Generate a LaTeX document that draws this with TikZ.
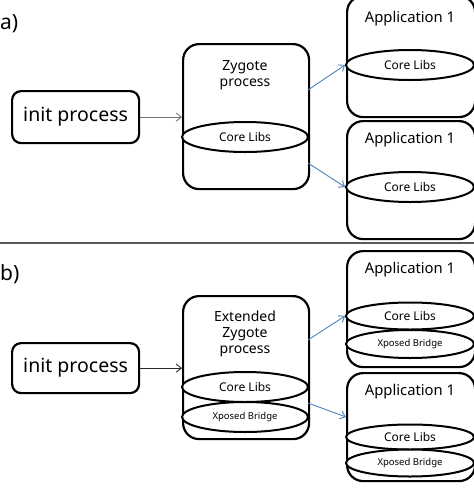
\documentclass[tikz,border=0pt]{standalone}
\usepackage{fontspec}
\setmainfont{Noto Sans}
\usetikzlibrary{arrows.meta,shapes.geometric}
\definecolor{linkblue}{RGB}{79,129,189}
\begin{document}
\begin{tikzpicture}[x=1pt,y=-1pt,
  procbox/.style={draw=black, line width=2.2pt, rounded corners=9pt, fill=white},
  bigbox/.style={draw=black, line width=2.2pt, rounded corners=16pt, fill=white},
  libell/.style={draw=black, line width=2pt, fill=white, ellipse, inner sep=0pt},
  bluearr/.style={draw=linkblue, line width=0.9pt, -{Straight Barb[length=5pt,width=8pt]}},
  initarr/.style={line width=0.9pt, -{Straight Barb[length=5pt,width=8pt]}},
  lab/.style={font=\fontsize{21}{21}\selectfont, inner sep=0pt},
  big/.style={font=\fontsize{19.5}{19.5}\selectfont, inner sep=0pt},
  mid/.style={font=\fontsize{14}{16}\selectfont, inner sep=0pt, align=center},
  appt/.style={font=\fontsize{14.8}{16}\selectfont, inner sep=0pt},
  small/.style={font=\fontsize{12}{13}\selectfont, inner sep=0pt},
  tiny/.style={font=\fontsize{9.5}{10}\selectfont, inner sep=0pt}]
\useasboundingbox (0,0) rectangle (474,491);
\begin{scope}
\clip (0,0) rectangle (474,491);
% ---------------- a) ----------------
\node[lab, anchor=west] (la) at (0,24) {a)};
\node[procbox, minimum width=127pt, minimum height=52pt, anchor=north west] (initA) at (11,90) {};
\node[big] (initAt) at (initA.center) {init process};
\node[bigbox, minimum width=126pt, minimum height=145pt, anchor=north west] (zygA) at (182,43) {};
\node[mid] (zygAt) at (245,75) {Zygote\\process};
\node[libell, minimum width=126pt, minimum height=30pt] (zygAcore) at (245,137) {};
\node[small] (zygAcoret) at (zygAcore.center) {Core Libs};
% apps a)
\node[bigbox, minimum width=128pt, minimum height=121pt, anchor=north west] (appA1) at (346,-5) {};
\node[appt] (appA1t) at (410,19) {Application 1};
\node[libell, minimum width=128pt, minimum height=30pt] (appA1core) at (410,65) {};
\node[small] (appA1coret) at (appA1core.center) {Core Libs};
\node[bigbox, minimum width=128pt, minimum height=118pt, anchor=north west] (appA2) at (346,120) {};
\node[appt] (appA2t) at (410,140) {Application 1};
\node[libell, minimum width=128pt, minimum height=30pt] (appA2core) at (410,187) {};
\node[small] (appA2coret) at (appA2core.center) {Core Libs};
\draw[initarr, draw=black!55] (initA.east) -- (zygA.west |- initA.east);
\coordinate (zA1) at (308,90);
\coordinate (zA2) at (308,163);
\draw[bluearr] (zA1) -- (appA1core.west);
\draw[bluearr] (zA2) -- (appA2core.west);
% separator
\coordinate (sepL) at (0,243);
\coordinate (sepR) at (474,243);
\draw[draw=black!65, line width=1.5pt] (sepL) -- (sepR);
% ---------------- b) ----------------
\node[lab, anchor=west, font=\fontsize{21}{21}\selectfont\bfseries] (lb) at (0,274) {b)};
\node[procbox, minimum width=127pt, minimum height=50pt, anchor=north west] (initB) at (11,342) {};
\node[big] (initBt) at (initB.center) {init process};
\node[bigbox, minimum width=126pt, minimum height=143pt, anchor=north west] (zygB) at (182,295) {};
\node[mid] (zygBt) at (245,334) {Extended\\Zygote\\process};
\node[libell, minimum width=126pt, minimum height=30pt] (zygBcore) at (245,387) {};
\node[small] (zygBcoret) at (zygBcore.center) {Core Libs};
\node[libell, minimum width=126pt, minimum height=30pt] (zygBxp) at (245,417) {};
\node[tiny] (zygBxpt) at (zygBxp.center) {Xposed Bridge};
% apps b)
\node[bigbox, minimum width=128pt, minimum height=116pt, anchor=north west] (appB1) at (346,250) {};
\node[appt] (appB1t) at (410,270) {Application 1};
\node[libell, minimum width=128pt, minimum height=27pt] (appB1core) at (410,316) {};
\node[small] (appB1coret) at (appB1core.center) {Core Libs};
\node[libell, minimum width=128pt, minimum height=28pt] (appB1xp) at (410,344) {};
\node[tiny] (appB1xpt) at (appB1xp.center) {Xposed Bridge};
\node[bigbox, minimum width=128pt, minimum height=108pt, anchor=north west] (appB2) at (346,372) {};
\node[appt] (appB2t) at (410,392) {Application 1};
\node[libell, minimum width=128pt, minimum height=25pt] (appB2core) at (410,437) {};
\node[small] (appB2coret) at (appB2core.center) {Core Libs};
\node[libell, minimum width=128pt, minimum height=27pt] (appB2xp) at (410,463) {};
\node[tiny] (appB2xpt) at (appB2xp.center) {Xposed Bridge};
\draw[initarr, draw=black!85] (initB.east) -- (zygB.west |- initB.east);
\coordinate (zB1) at (308,340);
\coordinate (zB2) at (308,403);
\coordinate (aB2) at (346,417);
\draw[bluearr] (zB1) -- (appB1core.west);
\draw[bluearr] (zB2) -- (aB2);
\end{scope}
\end{tikzpicture}
\end{document}
